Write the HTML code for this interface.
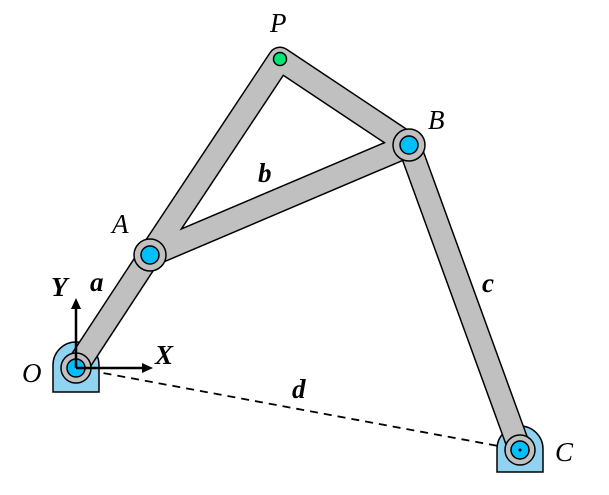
<!DOCTYPE html>
<html><head><style>
html,body{margin:0;padding:0;background:#fff;}
svg{display:block;}
text{font-family:"Liberation Serif",serif;}
</style></head><body>
<svg width="609" height="495" viewBox="0 0 609 495" xmlns="http://www.w3.org/2000/svg">
<line x1="76" y1="368" x2="520" y2="450" stroke="#000" stroke-width="1.8" stroke-dasharray="8,6"/>
<path d="M53,392 V365 A23,23 0 0 1 99,365 V392 Z" fill="#8fd3f0" stroke="#000" stroke-width="1.5"/>
<path d="M497,472 V449 A23,23 0 0 1 543,449 V472 Z" fill="#8fd3f0" stroke="#000" stroke-width="1.5"/>
<g fill="none" stroke-linecap="round" stroke-linejoin="round">
<line x1="76" y1="368" x2="150" y2="255" stroke="#000" stroke-width="24"/>
<line x1="76" y1="368" x2="150" y2="255" stroke="#c0c0c0" stroke-width="21"/>
<line x1="409" y1="145" x2="520" y2="450" stroke="#000" stroke-width="24"/>
<line x1="409" y1="145" x2="520" y2="450" stroke="#c0c0c0" stroke-width="21"/>
<polygon points="150,255 280,59 409,145" stroke="#000" stroke-width="25"/>
<polygon points="150,255 280,59 409,145" stroke="#c0c0c0" stroke-width="22"/>
</g>
<circle cx="76" cy="368" r="15" fill="#c0c0c0" stroke="#000" stroke-width="1.5"/>
<circle cx="76" cy="368" r="9" fill="#00bfff" stroke="#000" stroke-width="1.5"/>
<circle cx="520" cy="450" r="15" fill="#c0c0c0" stroke="#000" stroke-width="1.5"/>
<circle cx="520" cy="450" r="9" fill="#00bfff" stroke="#000" stroke-width="1.5"/>
<circle cx="520" cy="450" r="1.5" fill="#000"/>
<circle cx="150" cy="255" r="16" fill="#c0c0c0" stroke="#000" stroke-width="1.5"/>
<circle cx="150" cy="255" r="9" fill="#00bfff" stroke="#000" stroke-width="1.5"/>
<circle cx="409" cy="145" r="16" fill="#c0c0c0" stroke="#000" stroke-width="1.5"/>
<circle cx="409" cy="145" r="9" fill="#00bfff" stroke="#000" stroke-width="1.5"/>
<circle cx="280" cy="59" r="6.5" fill="#00e676" stroke="#000" stroke-width="1.5"/>
<line x1="76" y1="368" x2="76" y2="305" stroke="#000" stroke-width="2.5"/>
<polygon points="76,298 71,309 81,309" fill="#000"/>
<line x1="76" y1="368" x2="145" y2="368" stroke="#000" stroke-width="2.5"/>
<polygon points="153,368 142,363 142,373" fill="#000"/>
<text x="51" y="296" font-size="27" font-weight="bold" font-style="italic">Y</text>
<text x="155" y="364" font-size="27" font-weight="bold" font-style="italic">X</text>
<text x="90" y="291" font-size="27" font-weight="bold" font-style="italic">a</text>
<text x="258" y="182" font-size="27" font-weight="bold" font-style="italic">b</text>
<text x="482" y="292" font-size="27" font-weight="bold" font-style="italic">c</text>
<text x="292" y="398" font-size="27" font-weight="bold" font-style="italic">d</text>
<text x="22" y="382" font-size="27" font-style="italic">O</text>
<text x="112" y="233" font-size="27" font-style="italic">A</text>
<text x="428" y="129" font-size="27" font-style="italic">B</text>
<text x="270" y="32" font-size="27" font-style="italic">P</text>
<text x="555" y="461" font-size="27" font-style="italic">C</text>
</svg>
</body></html>
